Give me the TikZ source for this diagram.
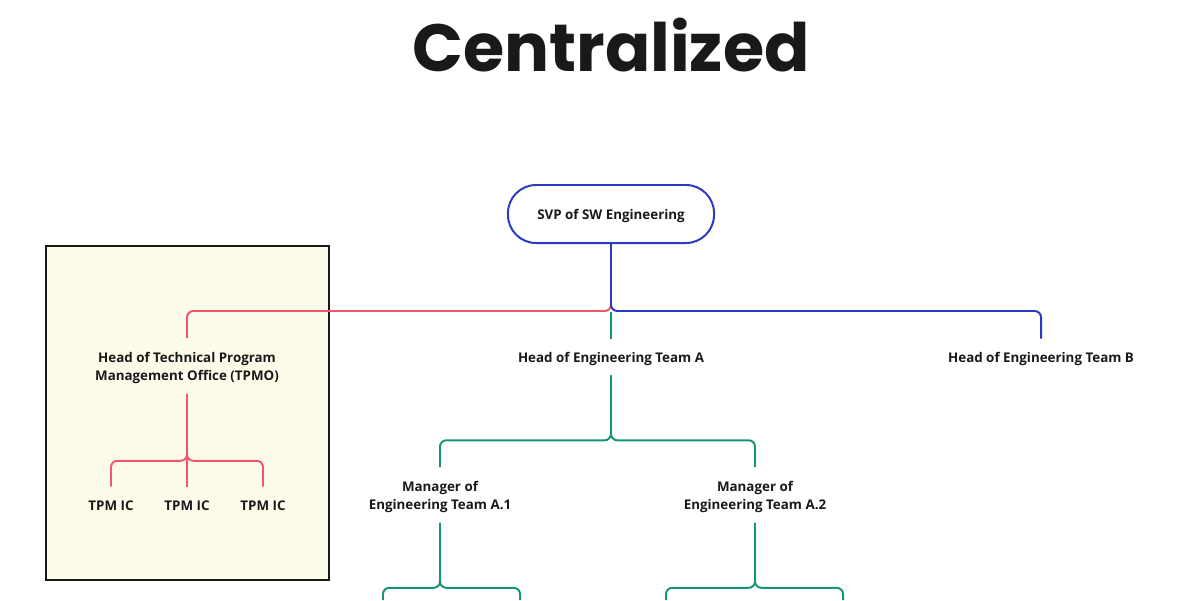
\documentclass[tikz,border=0pt]{standalone}
\usepackage{fontspec}
\setmainfont{Open Sans}
\newfontfamily\titlefont{Poppins}
\usepackage{xcolor}
\definecolor{svpBlue}{RGB}{43, 58, 196}
\definecolor{tpmoRed}{RGB}{240, 86, 108}
\definecolor{teamGreen}{RGB}{18, 150, 118}
\definecolor{tpmoCream}{RGB}{253, 252, 235}
\definecolor{inkBlack}{RGB}{25, 25, 25}

\begin{document}
\begin{tikzpicture}[
    x=0.025cm, y=-0.025cm,
    every node/.style={font=\bfseries\fontsize{9.5}{13.5}\selectfont, text=inkBlack},
    role/.style={align=center, inner xsep=2pt, inner ysep=7.8pt, text height=8.9pt, text depth=1.1pt},
    role2/.style={align=center, inner xsep=2pt, inner ysep=7.8pt, text height=22.4pt, text depth=1.1pt},
    topbox/.style={rectangle, draw=svpBlue, line width=1.4pt, rounded corners=20pt, minimum width=5.15cm, minimum height=1.45cm, text height=8.9pt, text depth=1.1pt},
    officebox/.style={rectangle, draw=inkBlack, line width=1.3pt, fill=tpmoCream, minimum width=7.075cm, minimum height=8.35cm},
    link/.style={line width=1.4pt, rounded corners=4.5pt, draw=#1}
]
\useasboundingbox (0,0) rectangle (1200,600);

% Title
\node[font=\titlefont\bfseries\fontsize{47.5}{52}\selectfont] (title) at (611,45) {Centralized};

% TPMO office (background)
\node[officebox] (office) at (187.5,413) {};

% Top
\node[topbox] (svp) at (611,214) {SVP of SW Engineering};

% Heads
\node[role2] (tpmo) at (187,366) {Head of Technical Program\\Management Office (TPMO)};
\node[role] (headA) at (611,357) {Head of Engineering Team A};
\node[role] (headB) at (1041,357) {Head of Engineering Team B};

% TPM ICs
\node[role] (ic1) at (111,505) {TPM IC};
\node[role] (ic2) at (187,505) {TPM IC};
\node[role] (ic3) at (263,505) {TPM IC};

% Managers
\node[role2] (mgrA1) at (440,495) {Manager of\\Engineering Team A.1};
\node[role2] (mgrA2) at (755,495) {Manager of\\Engineering Team A.2};

% cut-off leaves
\coordinate (leafA1a) at (383,600);
\coordinate (leafA1b) at (520,600);
\coordinate (leafA2a) at (666,600);
\coordinate (leafA2b) at (843,600);

% SVP to heads
\draw[link=tpmoRed] (svp.south) -- ++(0,67) -| (tpmo.north);
\draw[link=svpBlue] (svp.south) -- ++(0,67) -| (headB.north);
\draw[link=teamGreen] (headA.north) -- ++(0,-27);

% TPMO to ICs
\draw[link=tpmoRed] (tpmo.south) -- (ic2.north);
\draw[link=tpmoRed] (tpmo.south) -- ++(0,67) -| (ic1.north);
\draw[link=tpmoRed] (tpmo.south) -- ++(0,67) -| (ic3.north);

% Team A
\draw[link=teamGreen] (headA.south) -- ++(0,65) -| (mgrA1.north);
\draw[link=teamGreen] (headA.south) -- ++(0,65) -| (mgrA2.north);
\draw[link=teamGreen] (mgrA1.south) -- ++(0,65) -| (leafA1a);
\draw[link=teamGreen] (mgrA1.south) -- ++(0,65) -| (leafA1b);
\draw[link=teamGreen] (mgrA2.south) -- ++(0,65) -| (leafA2a);
\draw[link=teamGreen] (mgrA2.south) -- ++(0,65) -| (leafA2b);

\end{tikzpicture}
\end{document}
